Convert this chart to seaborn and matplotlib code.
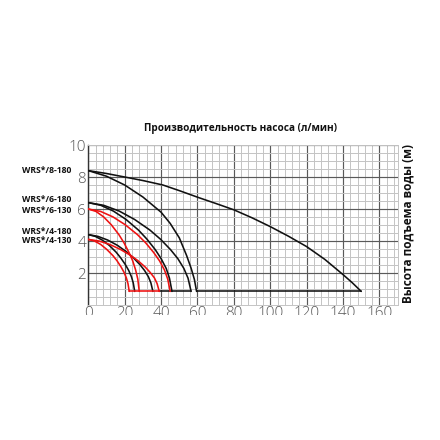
import matplotlib
matplotlib.use("Agg")
import matplotlib.pyplot as plt
import seaborn as sns
import pandas as pd
from matplotlib.ticker import MultipleLocator
from matplotlib.transforms import Bbox, TransformedBbox

# ---------------- data ----------------
flow_8_180_a = [0, 10, 20, 30, 41, 50, 61, 70, 80, 90, 100, 110, 120, 130, 140, 145, 150]
head_8_180_a = [8.4, 8.22, 8.0, 7.78, 7.5, 7.15, 6.7, 6.35, 5.95, 5.45, 4.9, 4.3, 3.65, 2.85, 1.9, 1.4, 0.85]

flow_8_180_b = [0, 10, 20, 30, 40, 45, 50, 54, 56.5, 58.3, 59.5]
head_8_180_b = [8.4, 8.05, 7.5, 6.75, 5.8, 5.1, 4.2, 3.1, 2.3, 1.6, 0.85]

flow_6_180_a = [0, 8.5, 17.0, 25.4, 33.9, 39.6, 45.2, 49.2, 52.5, 54.8, 56.5]
flow_6_180_b = [0, 6.9, 13.8, 20.7, 27.6, 32.2, 36.8, 40.0, 42.8, 44.6, 46.0]
head_6_180 = [6.4, 6.23, 5.87, 5.35, 4.68, 4.12, 3.46, 2.90, 2.29, 1.68, 0.85]

flow_6_130_a = [0, 6.75, 13.5, 20.25, 27.0, 31.5, 36.0, 39.15, 41.85, 43.65, 45.0]
flow_6_130_b = [0, 4.2, 8.4, 12.6, 16.8, 19.6, 22.4, 24.4, 26.0, 27.2, 28.0]
head_6_130 = [6.0, 5.85, 5.51, 5.02, 4.40, 3.89, 3.27, 2.76, 2.19, 1.62, 0.85]

flow_4_180_a = [0, 5.3, 10.65, 16.0, 21.3, 24.85, 28.4, 30.9, 33.0, 34.4, 35.5]
flow_4_180_b = [0, 3.8, 7.65, 11.5, 15.3, 17.85, 20.4, 22.2, 23.7, 24.7, 25.5]
head_4_180 = [4.4, 4.29, 4.06, 3.73, 3.30, 2.94, 2.52, 2.16, 1.77, 1.38, 0.85]

flow_4_130_a = [0, 5.85, 11.7, 17.55, 23.4, 27.3, 31.2, 33.9, 36.3, 37.8, 39.0]
flow_4_130_b = [0, 3.4, 6.75, 10.1, 13.5, 15.75, 18.0, 19.6, 20.9, 21.8, 22.5]
head_4_130 = [4.1, 4.00, 3.79, 3.48, 3.09, 2.77, 2.38, 2.05, 1.70, 1.34, 0.85]

base_red_flow = [22.5, 39.0]
base_black1_flow = [39.0, 56.5]
base_black2_flow = [59.5, 150.0]
base_head = [0.85, 0.85]

model_labels = ["WRS*/8-180", "WRS*/6-180", "WRS*/6-130", "WRS*/4-180", "WRS*/4-130"]
x_ticks = [0, 20, 40, 60, 80, 100, 120, 140, 160]
y_ticks = [2, 4, 6, 8, 10]
title = "Производительность насоса (л/мин)"
ylabel = "Высота подъема воды (м)"

# ---------------- build table ----------------
series = [
    ("8-180a", "k", flow_8_180_a, head_8_180_a),
    ("8-180b", "k", flow_8_180_b, head_8_180_b),
    ("6-180a", "k", flow_6_180_a, head_6_180),
    ("6-180b", "k", flow_6_180_b, head_6_180),
    ("4-180a", "k", flow_4_180_a, head_4_180),
    ("4-180b", "k", flow_4_180_b, head_4_180),
    ("base_b1", "k", base_black1_flow, base_head),
    ("base_b2", "k", base_black2_flow, base_head),
    ("6-130a", "r", flow_6_130_a, head_6_130),
    ("6-130b", "r", flow_6_130_b, head_6_130),
    ("4-130a", "r", flow_4_130_a, head_4_130),
    ("4-130b", "r", flow_4_130_b, head_4_130),
    ("base_r", "r", base_red_flow, base_head),
]
rows = []
for name, col, xs, ys in series:
    for i, (xv, yv) in enumerate(zip(xs, ys)):
        rows.append({"curve": name, "flow": xv, "head": yv, "order": i})
df = pd.DataFrame(rows)
palette = {name: ("#111111" if col == "k" else "#ee1111") for name, col, _, _ in series}
hue_order = [s[0] for s in series]

# ---------------- figure ----------------
sns.set_theme(style="white")
plt.rcParams['font.family'] = ['Open Sans', 'DejaVu Sans']

fig = plt.figure(figsize=(4.4, 4.4), dpi=100)
ax = fig.add_axes([0.2007, 0.3068, 0.7030, 0.3636])

sns.lineplot(data=df, x="flow", y="head", hue="curve", hue_order=hue_order,
             palette=palette, estimator=None, sort=False, legend=False,
             linewidth=1.15, ax=ax, zorder=3)

ax.set_xlim(0, 170)
ax.set_ylim(0, 10)
ax.set_xticks(x_ticks)
ax.set_yticks(y_ticks)
ax.xaxis.set_minor_locator(MultipleLocator(4))
ax.yaxis.set_minor_locator(MultipleLocator(0.5))
ax.grid(which='minor', color='#c4c4c4', linewidth=0.7)
ax.grid(which='major', color='#5a5a5a', linewidth=0.85)
ax.set_axisbelow(True)
ax.tick_params(which='both', length=0)
ax.tick_params(axis='y', pad=1.5, labelsize=11, labelcolor='#555555')
ax.tick_params(axis='x', pad=1.0, labelsize=11, labelcolor='#555555')
ax.set_xlabel("")
ax.set_ylabel("")
for lbl in ax.get_yticklabels() + ax.get_xticklabels():
    lbl.set_fontweight('light')

for side in ['top', 'right', 'bottom']:
    ax.spines[side].set_color('#c4c4c4')
    ax.spines[side].set_linewidth(0.7)
ax.spines['left'].set_color('#333333')
ax.spines['left'].set_linewidth(1.0)

# clip x tick labels at the bottom like the reference
clip = TransformedBbox(Bbox([[0, 0.283], [1, 1]]), fig.transFigure)
for tk in ax.xaxis.get_major_ticks():
    tk.label1.set_clip_on(True)
    tk.label1.set_clip_box(clip)

fig.text(0.547, 0.709, title, ha='center', va='center', fontsize=7.2,
         fontweight='bold', color='#111111')
fig.text(0.927, 0.491, ylabel, ha='center', va='center', rotation=90,
         fontsize=8.5, fontweight='bold', color='#111111')

label_y = [0.612, 0.5455, 0.5227, 0.475, 0.4523]
for txt, yy in zip(model_labels, label_y):
    fig.text(0.05, yy, txt, ha='left', va='center', fontsize=6.2,
             fontweight='bold', color='#111111')

fig.savefig("out.png", dpi=100)
